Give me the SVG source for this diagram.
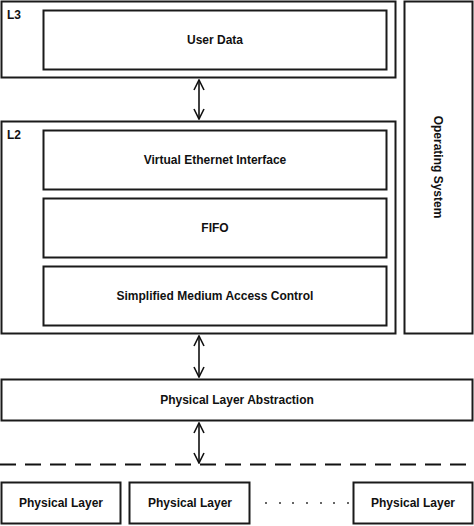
<svg xmlns="http://www.w3.org/2000/svg" width="474" height="526" viewBox="0 0 474 526">
<style>
.box{fill:#fff;stroke:#1a1a1a;stroke-width:2}
.t{font-family:"Liberation Sans",Arial,sans-serif;font-weight:bold;font-size:12px;fill:#111;text-anchor:middle}
.lbl{font-family:"Liberation Sans",Arial,sans-serif;font-weight:bold;font-size:12px;fill:#111}
.c{stroke:#111;stroke-width:1.6;fill:none}
</style>
<defs>
<marker id="ah" viewBox="0 0 12 12" refX="11" refY="6" markerWidth="12" markerHeight="12" markerUnits="userSpaceOnUse" orient="auto-start-reverse">
<path d="M1,1 L11,6 L1,11" fill="none" stroke="#111" stroke-width="1.6"/>
</marker>
</defs>
<rect width="474" height="526" fill="#fff"/>
<g id="L3">
<rect class="box" x="1.5" y="1.5" width="394" height="76"/>
<text class="lbl" x="7" y="19">L3</text>
</g>
<g id="user-data">
<rect class="box" x="43.5" y="10.5" width="343" height="59"/>
<text class="t" x="215" y="44">User Data</text>
</g>
<g id="L2">
<rect class="box" x="1.5" y="121.5" width="394" height="212"/>
<text class="lbl" x="7" y="139">L2</text>
</g>
<g id="vei">
<rect class="box" x="43.5" y="130.5" width="343" height="59"/>
<text class="t" x="215" y="164">Virtual Ethernet Interface</text>
</g>
<g id="fifo">
<rect class="box" x="43.5" y="198.5" width="343" height="59"/>
<text class="t" x="215" y="232">FIFO</text>
</g>
<g id="smac">
<rect class="box" x="43.5" y="266.5" width="343" height="59"/>
<text class="t" x="215" y="300">Simplified Medium Access Control</text>
</g>
<g id="os">
<rect class="box" x="404.5" y="1.5" width="68" height="332"/>
<text class="t" transform="translate(434,167) rotate(90)">Operating System</text>
</g>
<g id="pla">
<rect class="box" x="1.5" y="379.5" width="471" height="41"/>
<text class="t" x="237" y="404">Physical Layer Abstraction</text>
</g>
<g id="phy1">
<rect class="box" x="1.5" y="482.5" width="119" height="41"/>
<text class="t" x="61" y="507">Physical Layer</text>
</g>
<g id="phy2">
<rect class="box" x="129.5" y="482.5" width="120" height="41"/>
<text class="t" x="190" y="507">Physical Layer</text>
</g>
<g id="phy3">
<rect class="box" x="353.5" y="482.5" width="119" height="41"/>
<text class="t" x="413" y="507">Physical Layer</text>
</g>
<g id="connectors">
<line class="c" x1="199" y1="80" x2="199" y2="119" marker-start="url(#ah)" marker-end="url(#ah)"/>
<line class="c" x1="199" y1="336" x2="199" y2="377" marker-start="url(#ah)" marker-end="url(#ah)"/>
<line class="c" x1="199" y1="423" x2="199" y2="463" marker-start="url(#ah)" marker-end="url(#ah)"/>
<line x1="0" y1="464.5" x2="474" y2="464.5" stroke="#111" stroke-width="2" stroke-dasharray="16,9"/>
<g fill="#333">
<circle cx="266" cy="503" r="1"/>
<circle cx="280" cy="503" r="1"/>
<circle cx="293" cy="503" r="1"/>
<circle cx="307" cy="503" r="1"/>
<circle cx="321" cy="503" r="1"/>
<circle cx="334" cy="503" r="1"/>
<circle cx="348" cy="503" r="1"/>
</g>
</g>
</svg>
